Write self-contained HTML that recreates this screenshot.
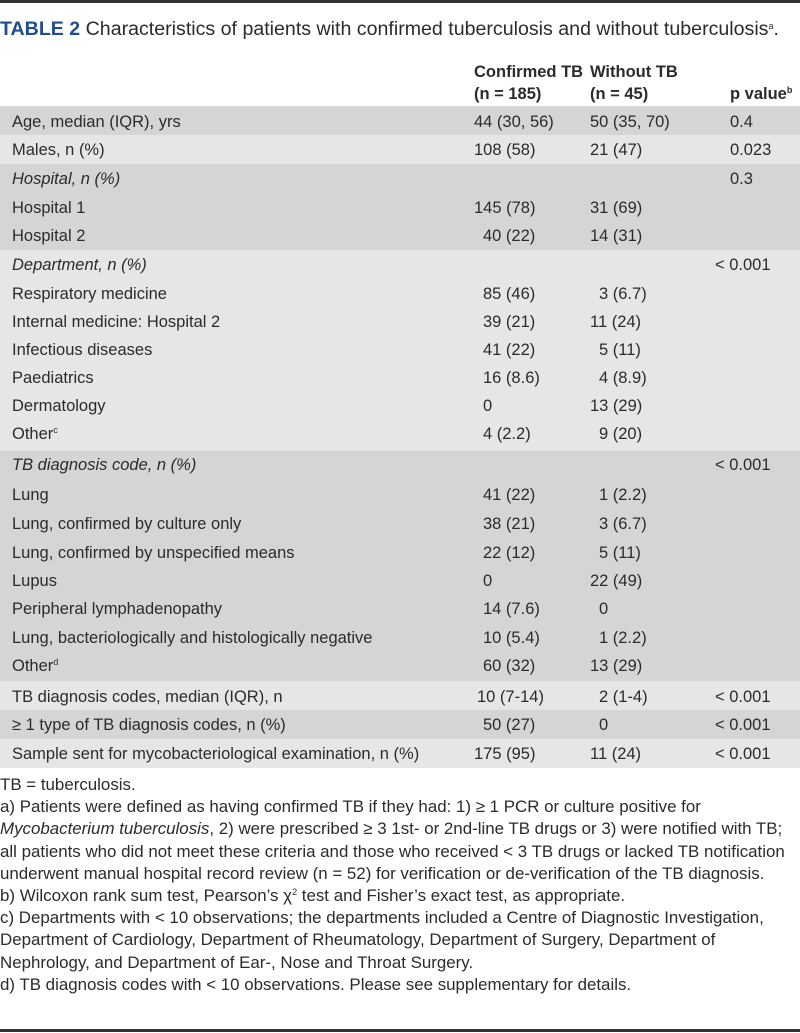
<!DOCTYPE html>
<html><head><meta charset="utf-8"><style>
*{margin:0;padding:0;box-sizing:border-box}
body{width:800px;height:1033px;background:#fff;position:relative;overflow:hidden;font-family:"Liberation Sans",sans-serif;color:#2b2b2b;font-size:16.5px}
.a{position:absolute;white-space:nowrap}
.bar{position:absolute;left:0;width:800px}
.r{position:absolute;left:0;width:800px;height:29px;line-height:29px}
.r span{position:absolute;top:0}
.d{background:#d4d5d7}.l{background:#e5e6e7}
.c1{left:12px}
sup{font-size:9px;vertical-align:6px;line-height:0}
.f{position:absolute;left:0;white-space:nowrap;font-size:16.9px;line-height:22.2px}
</style></head><body>
<div class="bar" style="top:0;height:3px;background:#333"></div>
<div class="a" style="left:0;top:18px;font-size:19.6px;"><b style="color:#1f4e8c">TABLE 2</b> Characteristics of patients with confirmed tuberculosis and without tuberculosis<sup>a</sup>.</div>
<div class="a" style="left:474px;top:61px;font-weight:bold;line-height:22px">Confirmed TB<br>(n = 185)</div>
<div class="a" style="left:590px;top:61px;font-weight:bold;line-height:22px">Without TB<br>(n = 45)</div>
<div class="a" style="left:730px;top:83px;font-weight:bold;line-height:22px">p value<sup>b</sup></div>

<div class="bar d" style="top:106px;height:29px"></div>
<div class="bar l" style="top:135px;height:29px"></div>
<div class="bar d" style="top:164px;height:86px"></div>
<div class="bar l" style="top:250px;height:201px"></div>
<div class="bar d" style="top:451px;height:230px"></div>
<div class="bar l" style="top:681px;height:29px"></div>
<div class="bar d" style="top:710px;height:29px"></div>
<div class="bar l" style="top:739px;height:29px"></div>

<div class="r" style="top:108px"><span class="c1">Age, median (IQR), yrs</span><span style="left:474px">44 (30, 56)</span><span style="left:590px">50 (35, 70)</span><span style="left:730px">0.4</span></div>
<div class="r" style="top:136px"><span class="c1">Males, n (%)</span><span style="left:474px">108 (58)</span><span style="left:590px">21 (47)</span><span style="left:730px">0.023</span></div>
<div class="r" style="top:165px"><span class="c1"><i>Hospital, n (%)</i></span><span style="left:730px">0.3</span></div>
<div class="r" style="top:194px"><span class="c1">Hospital 1</span><span style="left:474px">145 (78)</span><span style="left:590px">31 (69)</span></div>
<div class="r" style="top:222px"><span class="c1">Hospital 2</span><span style="left:483px">40 (22)</span><span style="left:590px">14 (31)</span></div>
<div class="r" style="top:251px"><span class="c1"><i>Department, n (%)</i></span><span style="left:715px">&lt; 0.001</span></div>
<div class="r" style="top:280px"><span class="c1">Respiratory medicine</span><span style="left:483px">85 (46)</span><span style="left:599px">3 (6.7)</span></div>
<div class="r" style="top:308px"><span class="c1">Internal medicine: Hospital 2</span><span style="left:483px">39 (21)</span><span style="left:590px">11 (24)</span></div>
<div class="r" style="top:336px"><span class="c1">Infectious diseases</span><span style="left:483px">41 (22)</span><span style="left:599px">5 (11)</span></div>
<div class="r" style="top:364px"><span class="c1">Paediatrics</span><span style="left:483px">16 (8.6)</span><span style="left:599px">4 (8.9)</span></div>
<div class="r" style="top:392px"><span class="c1">Dermatology</span><span style="left:483px">0</span><span style="left:590px">13 (29)</span></div>
<div class="r" style="top:420px"><span class="c1">Other<sup>c</sup></span><span style="left:483px">4 (2.2)</span><span style="left:599px">9 (20)</span></div>
<div class="r" style="top:451px"><span class="c1"><i>TB diagnosis code, n (%)</i></span><span style="left:715px">&lt; 0.001</span></div>
<div class="r" style="top:481px"><span class="c1">Lung</span><span style="left:483px">41 (22)</span><span style="left:599px">1 (2.2)</span></div>
<div class="r" style="top:510px"><span class="c1">Lung, confirmed by culture only</span><span style="left:483px">38 (21)</span><span style="left:599px">3 (6.7)</span></div>
<div class="r" style="top:539px"><span class="c1">Lung, confirmed by unspecified means</span><span style="left:483px">22 (12)</span><span style="left:599px">5 (11)</span></div>
<div class="r" style="top:567px"><span class="c1">Lupus</span><span style="left:483px">0</span><span style="left:590px">22 (49)</span></div>
<div class="r" style="top:595px"><span class="c1">Peripheral lymphadenopathy</span><span style="left:483px">14 (7.6)</span><span style="left:599px">0</span></div>
<div class="r" style="top:624px"><span class="c1">Lung, bacteriologically and histologically negative</span><span style="left:483px">10 (5.4)</span><span style="left:599px">1 (2.2)</span></div>
<div class="r" style="top:652px"><span class="c1">Other<sup>d</sup></span><span style="left:483px">60 (32)</span><span style="left:590px">13 (29)</span></div>
<div class="r" style="top:683px"><span class="c1">TB diagnosis codes, median (IQR), n</span><span style="left:477px">10 (7-14)</span><span style="left:599px">2 (1-4)</span><span style="left:715px">&lt; 0.001</span></div>
<div class="r" style="top:711px"><span class="c1">≥ 1 type of TB diagnosis codes, n (%)</span><span style="left:483px">50 (27)</span><span style="left:599px">0</span><span style="left:715px">&lt; 0.001</span></div>
<div class="r" style="top:740px"><span class="c1">Sample sent for mycobacteriological examination, n (%)</span><span style="left:474px">175 (95)</span><span style="left:590px">11 (24)</span><span style="left:715px">&lt; 0.001</span></div>

<div class="f" style="top:774px">TB = tuberculosis.<br>
a) Patients were defined as having confirmed TB if they had: 1) ≥ 1 PCR or culture positive for<br>
<i>Mycobacterium tuberculosis</i>, 2) were prescribed ≥ 3 1st- or 2nd-line TB drugs or 3) were notified with TB;<br>
all patients who did not meet these criteria and those who received &lt; 3 TB drugs or lacked TB notification<br>
underwent manual hospital record review (n = 52) for verification or de-verification of the TB diagnosis.<br>
b) Wilcoxon rank sum test, Pearson’s χ<sup>2</sup> test and Fisher’s exact test, as appropriate.<br>
c) Departments with &lt; 10 observations; the departments included a Centre of Diagnostic Investigation,<br>
Department of Cardiology, Department of Rheumatology, Department of Surgery, Department of<br>
Nephrology, and Department of Ear-, Nose and Throat Surgery.<br>
d) TB diagnosis codes with &lt; 10 observations. Please see supplementary for details.</div>
<div class="bar" style="top:1029px;height:3px;background:#333"></div>
</body></html>
